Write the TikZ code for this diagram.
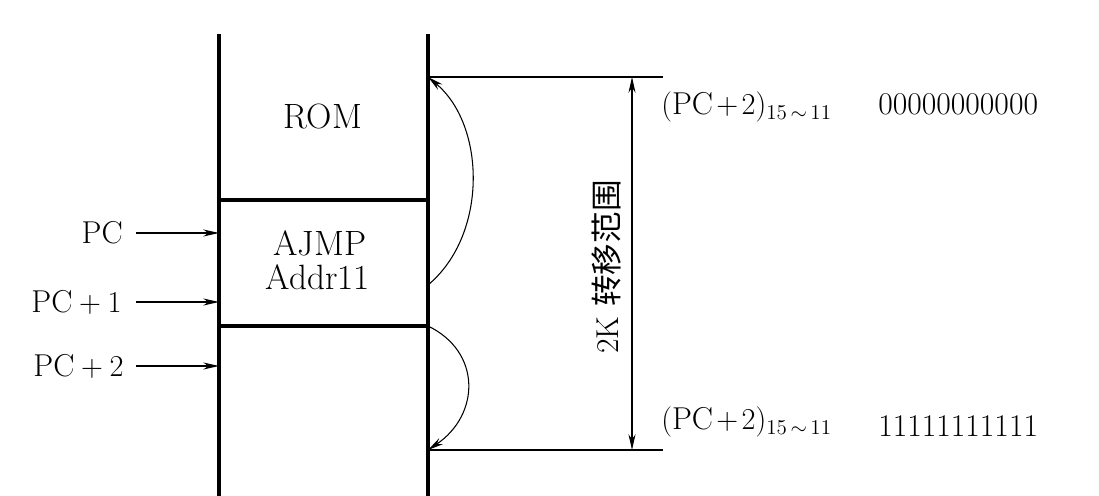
\documentclass[tikz,border=0pt]{standalone}
\usepackage{fontspec}
\newfontfamily\cjk{Noto Sans CJK SC}
\usetikzlibrary{arrows.meta}
\newcommand{\rangesub}{\hbox{\fontsize{12}{14}\selectfont 15\kern2pt$\sim$\kern2pt 11}}
\begin{document}
\begin{tikzpicture}[x=0.02cm,y=-0.02cm,
  wall/.style={line width=2pt},
  thinline/.style={line width=0.6pt},
  arr/.style={-{Stealth[length=9pt,width=4pt]}, line width=0.6pt},
  darr/.style={{Stealth[length=9pt,width=4pt]}-{Stealth[length=9pt,width=4pt]}, line width=0.6pt},
  lbl/.style={font=\fontsize{18}{21}\selectfont, inner sep=0pt},
  boxlbl/.style={font=\fontsize{20}{24}\selectfont, inner sep=0pt}]
\useasboundingbox (0,0) rectangle (1099,496);
% walls
\coordinate (LT) at (219,34);
\coordinate (LB) at (219,496);
\coordinate (RT) at (428,34);
\coordinate (RB) at (428,496);
\coordinate (L1) at (219,200);
\coordinate (R1) at (428,200);
\coordinate (L2) at (219,326);
\coordinate (R2) at (428,326);
\draw[wall] (LT) -- (LB);
\draw[wall] (RT) -- (RB);
\draw[wall] (L1) -- (R1);
\draw[wall] (L2) -- (R2);
% box texts
\node[boxlbl] (rom) at (323,117) {ROM};
\node[boxlbl, anchor=base] (ajmp) at (320,256) {AJMP};
\node[boxlbl, anchor=base] (addr) at (318,290) {Addr11};
% PC labels
\node[lbl, anchor=east] (pc0) at (123,233) {PC};
\node[lbl, anchor=east] (pc1) at (122,302) {$\mathrm{PC}+1$};
\node[lbl, anchor=east] (pc2) at (124,366) {$\mathrm{PC}+2$};
\draw[arr] ([xshift=0.26cm]pc0.east) -- (pc0 -| LT);
\draw[arr] ([xshift=0.28cm]pc1.east) -- (pc1 -| LT);
\draw[arr] ([xshift=0.24cm]pc2.east) -- (pc2 -| LT);
% range lines
\coordinate (T0) at (428,77);
\coordinate (T1) at (663,77);
\coordinate (B0) at (428,450);
\coordinate (B1) at (663,450);
\coordinate (AT) at (632,77);
\coordinate (AB) at (632,450);
\draw[thinline] (T0) -- (T1);
\draw[thinline] (B0) -- (B1);
\draw[darr] (AB) -- (AT);
\node[lbl, rotate=90] (range) at (607,267) {2K {\cjk 转移范围}};
% curved arrows
\coordinate (C0) at (428,285);
\draw[arr] (C0) .. controls (488,235) and (486,125) .. (T0);
\draw[arr] (R2) .. controls (482,352) and (480,415) .. (B0);
% right labels
\node[lbl, anchor=base west] (top) at (661,115) {$(\mathrm{PC}\mkern2mu{+}\mkern2mu2)_{\rangesub}$};
\node[lbl, anchor=base west] (topv) at (878,115) {00000000000};
\node[lbl, anchor=base west] (bot) at (661,430) {$(\mathrm{PC}\mkern2mu{+}\mkern2mu2)_{\rangesub}$};
\node[lbl, anchor=base west] (botv) at (878,437) {11111111111};
\end{tikzpicture}
\end{document}
